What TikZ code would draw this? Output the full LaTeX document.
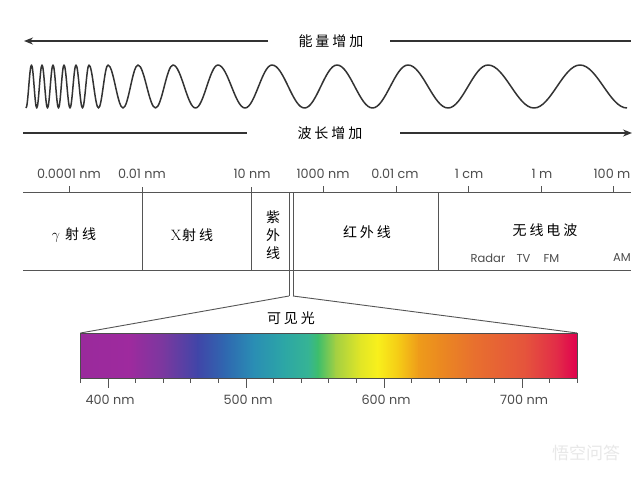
\documentclass[tikz,border=0pt]{standalone}
\usepackage{fontspec}
\newfontfamily\numfont{Poppins}
\newfontfamily\cjk{Noto Sans CJK SC}
\usetikzlibrary{arrows.meta}
\definecolor{ink}{HTML}{333333}
\definecolor{grid}{HTML}{555555}
\definecolor{s1}{HTML}{9A2A9C}
\definecolor{s2}{HTML}{9E2A9E}
\definecolor{s3}{HTML}{7A389F}
\definecolor{s4}{HTML}{4046A8}
\definecolor{s5}{HTML}{2F68B0}
\definecolor{s6}{HTML}{2A8DB4}
\definecolor{s7}{HTML}{2CA6A6}
\definecolor{s8}{HTML}{36B494}
\definecolor{s9}{HTML}{3EBE6C}
\definecolor{s10}{HTML}{A4D042}
\definecolor{s11}{HTML}{E2E626}
\definecolor{s12}{HTML}{F8F01C}
\definecolor{s13}{HTML}{F5CC16}
\definecolor{s14}{HTML}{EE9B1A}
\definecolor{s15}{HTML}{EB8A20}
\definecolor{s16}{HTML}{E8702E}
\definecolor{s17}{HTML}{E5543C}
\definecolor{s18}{HTML}{E22C48}
\definecolor{s19}{HTML}{E0004E}
\newcommand{\cs}{\hspace{3pt}}
\tikzset{
  arrowline/.style={draw=ink, line width=1.5pt},
  gridline/.style={draw=grid, line width=0.9pt},
  cjklabel/.style={font=\cjk\fontsize{14}{14}\selectfont, text=black, inner sep=0pt},
  numlabel/.style={font=\numfont\fontsize{12.8}{13}\selectfont, text=grid!90!black, inner sep=0pt},
  radiolabel/.style={font=\numfont\fontsize{11.5}{12}\selectfont, text=grid!90!black, inner sep=0pt},
}
\begin{document}
\begin{tikzpicture}[x=1pt, y=-1pt]
\useasboundingbox[fill=white] (0,0) rectangle (640,480);

% energy arrow
\node[cjklabel] (energy) at (331,41) {能\cs 量\cs 增\cs 加};
\coordinate (eA) at (268,41); \coordinate (eTip) at (24,41);
\coordinate (eB) at (390,41); \coordinate (eEnd) at (631,41);
\draw[arrowline, -{Stealth[length=9pt,width=7pt]}] (eA) -- (eTip);
\draw[arrowline] (eB) -- (eEnd);

% wave
\draw[ink, line width=1.5pt, line join=round] (26,108)
 \foreach \t/\c/\n in {26/31.5/36.75, 36.75/42/47.5, 47.5/53/58.5, 58.5/64/70, 70/76/82.5, 82.5/89/98.5, 98.5/108/123, 123/138/155.5, 155.5/173/195.5, 195.5/218/245, 245/272/304.5, 304.5/337/372.5, 372.5/408/448, 448/488/534, 534/580/627}
 { cos ({(\t+\c)/2},86.5) sin (\c,65) cos ({(\c+\n)/2},86.5) sin (\n,108) };

% wavelength arrow
\node[cjklabel] (wavelen) at (330,133) {波\cs 长\cs 增\cs 加};
\coordinate (wA) at (23,133); \coordinate (wB) at (247,133);
\coordinate (wC) at (400,133); \coordinate (wTip) at (632,133);
\draw[arrowline] (wA) -- (wB);
\draw[arrowline, -{Stealth[length=9pt,width=7pt]}] (wC) -- (wTip);

% scale frame
\coordinate (tl) at (23,192); \coordinate (tr) at (631,192);
\coordinate (bl) at (23,270); \coordinate (br) at (631,270);
\draw[gridline] (tl) -- (tr);
\draw[gridline] (bl) -- (br);
\draw[gridline] (142,187) -- (142,270);
\draw[gridline] (251,187) -- (251,270);
\draw[gridline] (438,192) -- (438,270);
\coordinate (dL) at (289,192); \coordinate (dR) at (293,192);
\coordinate (fL) at (289,296); \coordinate (fR) at (293,296);
\draw[gridline] (dL) -- (fL);
\draw[gridline] (dR) -- (fR);
\foreach \x in {69,323,396,468,541,613} \draw[gridline] (\x,186) -- (\x,192);

% scale labels
\node[numlabel] (l1) at (69,174) {0.0001 nm};
\node[numlabel] (l2) at (142,174) {0.01 nm};
\node[numlabel] (l3) at (252,174) {10 nm};
\node[numlabel] (l4) at (323,174) {1000 nm};
\node[numlabel] (l5) at (395,174) {0.01 cm};
\node[numlabel] (l6) at (469,174) {1 cm};
\node[numlabel] (l7) at (542,174) {1 m};
\node[numlabel] (l8) at (612,174) {100 m};

% region labels
\node[cjklabel] (gamma) at (74,235) {\fontsize{15}{15}\selectfont$\gamma$\hspace{5pt}\cjk\fontsize{14}{14}\selectfont 射\cs 线};
\node[cjklabel] (xray) at (192,235) {\rmfamily\fontsize{15}{15}\selectfont X\hspace{1pt}\cjk\fontsize{14}{14}\selectfont 射\cs 线};
\node[cjklabel] (uv1) at (273,217) {紫};
\node[cjklabel] (uv2) at (273,235) {外};
\node[cjklabel] (uv3) at (273,253) {线};
\node[cjklabel] (ir) at (367,232) {红\cs 外\cs 线};
\node[cjklabel] (radio) at (545,230) {无\cs 线\cs 电\cs 波};
\node[radiolabel] (radar) at (488,258) {Radar};
\node[radiolabel] (tv) at (523.5,258) {TV};
\node[radiolabel] (fm) at (551.5,258) {FM};
\node[radiolabel] (am) at (622,258) {AM};

% visible spectrum
\coordinate (sTL) at (80.4,333); \coordinate (sTR) at (577.2,333);
\coordinate (sBR) at (577.2,378);
\draw[grid, line width=0.9pt] (fL) -- (sTL);
\draw[grid, line width=0.9pt] (fR) -- (sTR);
\node[cjklabel] (vis) at (291,318) {可\cs 见\cs 光};
\foreach \a/\b/\ca/\cb in {380/415/s1/s2, 415/440/s2/s3, 440/465/s3/s4, 465/485/s4/s5, 485/505/s5/s6, 505/527/s6/s7, 527/545/s7/s8, 545/552/s8/s9, 552/565/s9/s10, 565/583/s10/s11, 583/595/s11/s12, 595/610/s12/s13, 610/625/s13/s14, 625/640/s14/s15, 640/665/s15/s16, 665/702/s16/s17, 702/725/s17/s18, 725/740/s18/s19}
  \shade[left color=\ca, right color=\cb] ({108+(\a-400)*1.38},333) rectangle ({108+(\b-400)*1.38+0.5},378);
\draw[black!70, line width=0.7pt] (sTL) rectangle (sBR);
\foreach \l in {380,420,440,460,480,520,540,560,580,620,640,660,680,720,740}
  \draw[grid, line width=0.8pt] ({108+(\l-400)*1.38},378) -- ({108+(\l-400)*1.38},383);
\foreach \l in {400,500,600,700}
  \draw[grid, line width=0.8pt] ({108+(\l-400)*1.38},378) -- ({108+(\l-400)*1.38},388);
\node[numlabel] (n400) at (110,400) {400 nm};
\node[numlabel] (n500) at (248,400) {500 nm};
\node[numlabel] (n600) at (386,400) {600 nm};
\node[numlabel] (n700) at (524,400) {700 nm};

% watermark
\node[font=\cjk\fontsize{17}{17}\selectfont, text=black!9, inner sep=0pt] (wm) at (586,453) {悟空问答};
\end{tikzpicture}
\end{document}
